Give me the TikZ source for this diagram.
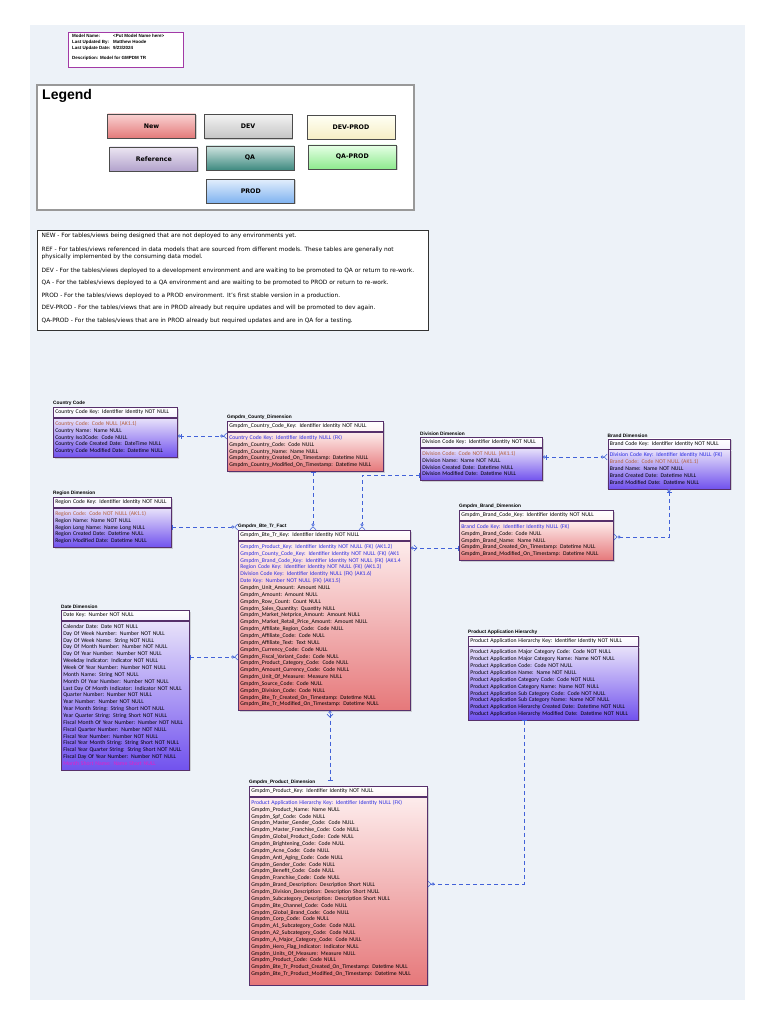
\documentclass[tikz,border=0pt]{standalone}
\usepackage{fontspec}
\setmainfont{DejaVu Sans}
\newfontfamily\erdfont{Carlito}
\newfontfamily\arialfont{Liberation Sans}
\usetikzlibrary{positioning,shadows,arrows.meta}

% colours
\definecolor{pagebg}{HTML}{EDF2F8}
\definecolor{tabline}{HTML}{57306B}
\definecolor{refTop}{HTML}{E8E2FA}
\definecolor{refBot}{HTML}{7152EE}
\definecolor{newTop}{HTML}{FDECEC}
\definecolor{newBot}{HTML}{E6787A}
\definecolor{fkblue}{HTML}{2A2CE2}
\definecolor{akbrown}{HTML}{B4603C}
\definecolor{hotpink}{HTML}{E41FC8}
\definecolor{relblue}{HTML}{4262D8}
\definecolor{hdrline}{HTML}{A23AA6}
\definecolor{newLegTop}{HTML}{FAD2D2}\definecolor{newLegBot}{HTML}{E37A7A}
\definecolor{devTop}{HTML}{F2F2F2}\definecolor{devBot}{HTML}{C4C4C4}
\definecolor{dpTop}{HTML}{FFFFF4}\definecolor{dpBot}{HTML}{F6EEC4}
\definecolor{refLegTop}{HTML}{ECE6F2}\definecolor{refLegBot}{HTML}{B2A2CC}
\definecolor{qaTop}{HTML}{CFE4E0}\definecolor{qaBot}{HTML}{3E8A80}
\definecolor{qpTop}{HTML}{E6FFE6}\definecolor{qpBot}{HTML}{8EEA8E}
\definecolor{prTop}{HTML}{E2EEFC}\definecolor{prBot}{HTML}{7EB2F0}

\newcommand{\erdrows}[1]{\begin{tabular}{@{}l@{}}#1\end{tabular}}
\newcommand{\fkrow}[1]{\textcolor{fkblue}{#1}}
\newcommand{\akrow}[1]{\textcolor{akbrown}{#1}}

\tikzset{
  ttl/.style={anchor=south west, inner sep=0pt, font=\arialfont\bfseries\fontsize{4.8}{5.5}\selectfont},
  tbox/.style={draw=tabline, line width=0.7pt, align=left, inner xsep=2pt,
    font=\erdfont\fontsize{5.7}{6.85}\selectfont,
    drop shadow={shadow xshift=1.2pt, shadow yshift=-1.2pt, opacity=0.3}},
  refkey/.style={tbox, anchor=north west, inner ysep=1.6pt, top color=white, bottom color=refTop!45},
  newkey/.style={tbox, anchor=north west, inner ysep=1.6pt, top color=white, bottom color=newTop!60},
  refattr/.style={tbox, inner ysep=2.5pt, top color=refTop, bottom color=refBot},
  newattr/.style={tbox, inner ysep=2.5pt, top color=newTop, bottom color=newBot},
  legbox/.style={draw=black!70, line width=0.7pt, minimum width=88pt, minimum height=24pt, inner sep=0pt,
    font=\bfseries\fontsize{6.3}{7}\selectfont,
    drop shadow={shadow xshift=1.2pt, shadow yshift=-1.2pt, opacity=0.35}},
  rel/.style={draw=relblue, line width=0.6pt, dash pattern=on 4pt off 3pt},
  onebar/.tip={Bar[width=5pt]},
  ringbar/.tip={Bar[width=5pt] Circle[open,fill=white,length=3pt]},
  ringcrow/.tip={Circle[open,fill=white,length=3pt] Straight Barb[reversed,length=3pt,width=6pt]},
  crowring/.tip={Straight Barb[reversed,length=3pt,width=6pt] Circle[open,fill=white,length=3pt]},
}

\begin{document}
\begin{tikzpicture}[x=1pt, y=-1pt]
  \useasboundingbox (0,0) rectangle (768,1024);
  \fill[pagebg] (30,25) rectangle (745,1000);

  % Model header
  \draw[hdrline, line width=1pt, fill=white] (68,33) rectangle (183,68);
  \node[anchor=north west, inner sep=0pt, align=left, font=\arialfont\bfseries\fontsize{4.5}{6}\selectfont] (hdr) at (72,34.5)
    {\makebox[41pt][l]{Model Name:}<Put Model Name here>\\
     \makebox[41pt][l]{Last Updated By:}Matthew Hoode\\
     \makebox[41pt][l]{Last Update Date:}9/23/2024\\[4pt]
     Description: Model for GMPDM TR};

  % Legend
  \draw[black!40, line width=1.5pt, fill=white] (37,85) rectangle (414,210);
  \node[anchor=west, inner sep=0pt, font=\arialfont\bfseries\fontsize{14}{16}\selectfont] (legt) at (42,96) {Legend};
  \node[legbox, top color=newLegTop, bottom color=newLegBot] (lnew) at (151.5,126) {New};
  \node[legbox, top color=devTop, bottom color=devBot] (ldev) at (248,126.7) {DEV};
  \node[legbox, top color=dpTop, bottom color=dpBot] (ldp) at (351,127.3) {DEV-PROD};
  \node[legbox, top color=refLegTop, bottom color=refLegBot] (lref) at (153.8,159) {Reference};
  \node[legbox, top color=qaTop, bottom color=qaBot] (lqa) at (250,158) {QA};
  \node[legbox, top color=qpTop, bottom color=qpBot] (lqp) at (352.3,157) {QA-PROD};
  \node[legbox, top color=prTop, bottom color=prBot] (lprod) at (250.8,191.3) {PROD};

  % Descriptions
  \draw[black!80, line width=0.6pt, fill=white] (37,230) rectangle (428,330);
  \node[anchor=north west, inner sep=0pt, align=left, font=\fontsize{5.85}{7.5}\selectfont] (desc) at (41.5,233)
    {NEW - For tables/views being designed that are not deployed to any environments yet.\\[6pt]
     REF - For tables/views referenced in data models that are sourced from different models.  These tables are generally not\\
     physically implemented by the consuming data model.\\[6pt]
     DEV - For the tables/views deployed to a development environment and are waiting to be promoted to QA or return to re-work.\\[5pt]
     QA - For the tables/views deployed to a QA environment and are waiting to be promoted to PROD or return to re-work.\\[5pt]
     PROD - For the tables/views deployed to a PROD environment. It's first stable version in a production.\\[5pt]
     DEV-PROD - For the tables/views that are in PROD already but require updates and will be promoted to dev again.\\[5pt]
     QA-PROD - For the tables/views that are in PROD already but required updates and are in QA for a testing.};

  % Country Code
  \node[ttl] (cct) at (53,406) {Country Code};
  \node[refkey, text width=120pt] (cck) at (53,407) {\erdrows{Country Code Key: Identifier Identity NOT NULL}};
  \node[refattr, text width=120pt, below=0pt of cck] (cca) {\erdrows{\akrow{Country Code: Code NULL (AK1.1)}\\
    Country Name: Name NULL\\
    Country Iso3Code: Code NULL\\
    Country Code Created Date: DateTime NULL\\
    Country Code Modified Date: Datetime NULL}};

  % Gmpdm_County_Dimension
  \node[ttl] (cdt) at (227,420) {Gmpdm\_County\_Dimension};
  \node[newkey, text width=152pt] (cdk) at (227,421) {\erdrows{Gmpdm\_Country\_Code\_Key: Identifier Identity NOT NULL}};
  \node[newattr, text width=152pt, below=0pt of cdk] (cda) {\erdrows{\fkrow{Country Code Key: Identifier Identity NULL (FK)}\\
    Gmpdm\_Country\_Code: Code NULL\\
    Gmpdm\_Country\_Name: Name NULL\\
    Gmpdm\_Country\_Created\_On\_Timestamp: Datetime NULL\\
    Gmpdm\_Country\_Modified\_On\_Timestamp: Datetime NULL}};

  % Division Dimension
  \node[ttl] (dvt) at (420,436) {Division Dimension};
  \node[refkey, text width=118pt] (dvk) at (420,437) {\erdrows{Division Code Key: Identifier Identity NOT NULL}};
  \node[refattr, text width=118pt, below=0pt of dvk] (dva) {\erdrows{\akrow{Division Code: Code NOT NULL (AK1.1)}\\
    Division Name: Name NOT NULL\\
    Division Created Date: Datetime NULL\\
    Division Modified Date: Datetime NULL}};

  % Brand Dimension
  \node[ttl] (bdt) at (607.5,437.5) {Brand Dimension};
  \node[refkey, text width=118.5pt] (bdk) at (607.5,438.5) {\erdrows{Brand Code Key: Identifier Identity NOT NULL}};
  \node[refattr, text width=118.5pt, below=0pt of bdk] (bda) {\erdrows{\fkrow{Division Code Key: Identifier Identity NULL (FK)}\\
    \akrow{Brand Code: Code NOT NULL (AK1.1)}\\
    Brand Name: Name NOT NULL\\
    Brand Created Date: Datetime NULL\\
    Brand Modified Date: Datetime NULL}};

  % Region Dimension
  \node[ttl] (rgt) at (53,496) {Region Dimension};
  \node[refkey, text width=114pt] (rgk) at (53,497) {\erdrows{Region Code Key: Identifier Identity NOT NULL}};
  \node[refattr, text width=114pt, below=0pt of rgk] (rga) {\erdrows{\akrow{Region Code: Code NOT NULL (AK1.1)}\\
    Region Name: Name NOT NULL\\
    Region Long Name: Name Long NULL\\
    Region Created Date: Datetime NULL\\
    Region Modified Date: Datetime NULL}};

  % Gmpdm_Brand_Dimension
  \node[ttl] (gbt) at (459,509) {Gmpdm\_Brand\_Dimension};
  \node[newkey, text width=150pt] (gbk) at (459,510) {\erdrows{Gmpdm\_Brand\_Code\_Key: Identifier Identity NOT NULL}};
  \node[newattr, text width=150pt, below=0pt of gbk] (gba) {\erdrows{\fkrow{Brand Code Key: Identifier Identity NULL (FK)}\\
    Gmpdm\_Brand\_Code: Code NULL\\
    Gmpdm\_Brand\_Name: Name NULL\\
    Gmpdm\_Brand\_Created\_On\_Timestamp: Datetime NULL\\
    Gmpdm\_Brand\_Modified\_On\_Timestamp: Datetime NULL}};

  % Gmpdm_Bte_Tr_Fact
  \node[ttl] (fct) at (238,529) {Gmpdm\_Bte\_Tr\_Fact};
  \node[newkey, text width=168pt] (fck) at (238,530) {\erdrows{Gmpdm\_Bte\_Tr\_Key: Identifier Identity NOT NULL}};
  \node[newattr, text width=168pt, below=0pt of fck] (fca) {\erdrows{\fkrow{Gmpdm\_Product\_Key: Identifier Identity NOT NULL (FK) (AK1.2)}\\
    \fkrow{Gmpdm\_County\_Code\_Key: Identifier Identity NOT NULL (FK) (AK1}\\
    \fkrow{Gmpdm\_Brand\_Code\_Key: Identifier Identity NOT NULL (FK) (AK1.4}\\
    \fkrow{Region Code Key: Identifier Identity NOT NULL (FK) (AK1.3)}\\
    \fkrow{Division Code Key: Identifier Identity NULL (FK) (AK1.6)}\\
    \fkrow{Date Key: Number NOT NULL (FK) (AK1.5)}\\
    Gmpdm\_Unit\_Amount: Amount NULL\\
    Gmpdm\_Amount: Amount NULL\\
    Gmpdm\_Row\_Count: Count NULL\\
    Gmpdm\_Sales\_Quantity: Quantity NULL\\
    Gmpdm\_Market\_Netprice\_Amount: Amount NULL\\
    Gmpdm\_Market\_Retail\_Price\_Amount: Amount NULL\\
    Gmpdm\_Affiliate\_Region\_Code: Code NULL\\
    Gmpdm\_Affiliate\_Code: Code NULL\\
    Gmpdm\_Affiliate\_Text: Text NULL\\
    Gmpdm\_Currency\_Code: Code NULL\\
    Gmpdm\_Fiscal\_Variant\_Code: Code NULL\\
    Gmpdm\_Product\_Category\_Code: Code NULL\\
    Gmpdm\_Amount\_Currency\_Code: Code NULL\\
    Gmpdm\_Unit\_Of\_Measure: Measure NULL\\
    Gmpdm\_Source\_Code: Code NULL\\
    Gmpdm\_Division\_Code: Code NULL\\
    Gmpdm\_Bte\_Tr\_Created\_On\_Timestamp: Datetime NULL\\
    Gmpdm\_Bte\_Tr\_Modified\_On\_Timestamp: Datetime NULL}};

  % Date Dimension
  \node[ttl] (dtt) at (61,609) {Date Dimension};
  \node[refkey, text width=124pt] (dtk) at (61,610) {\erdrows{Date Key: Number NOT NULL}};
  \node[refattr, text width=124pt, below=0pt of dtk] (dta) {\erdrows{Calendar Date: Date NOT NULL\\
    Day Of Week Number: Number NOT NULL\\
    Day Of Week Name: String NOT NULL\\
    Day Of Month Number: Number NOT NULL\\
    Day Of Year Number: Number NOT NULL\\
    Weekday Indicator: Indicator NOT NULL\\
    Week Of Year Number: Number NOT NULL\\
    Month Name: String NOT NULL\\
    Month Of Year Number: Number NOT NULL\\
    Last Day Of Month Indicator: Indicator NOT NULL\\
    Quarter Number: Number NOT NULL\\
    Year Number: Number NOT NULL\\
    Year Month String: String Short NOT NULL\\
    Year Quarter String: String Short NOT NULL\\
    Fiscal Month Of Year Number: Number NOT NULL\\
    Fiscal Quarter Number: Number NOT NULL\\
    Fiscal Year Number: Number NOT NULL\\
    Fiscal Year Month String: String Short NOT NULL\\
    Fiscal Year Quarter String: String Short NOT NULL\\
    Fiscal Day Of Year Number: Number NOT NULL\\
    \textcolor{hotpink}{Month Short Name: Name Short NULL}}};

  % Product Application Hierarchy
  \node[ttl] (pat) at (468,634.5) {Product Application Hierarchy};
  \node[refkey, text width=166pt] (pak) at (468,635.5) {\erdrows{Product Application Hierarchy Key: Identifier Identity NOT NULL}};
  \node[refattr, text width=166pt, below=0pt of pak] (paa) {\erdrows{Product Application Major Category Code: Code NOT NULL\\
    Product Application Major Category Name: Name NOT NULL\\
    Product Application Code: Code NOT NULL\\
    Product Application Name: Name NOT NULL\\
    Product Application Category Code: Code NOT NULL\\
    Product Application Category Name: Name NOT NULL\\
    Product Application Sub Category Code: Code NOT NULL\\
    Product Application Sub Category Name: Name NOT NULL\\
    Product Application Hierarchy Created Date: Datetime NOT NULL\\
    Product Application Hierarchy Modified Date: Datetime NOT NULL}};

  % Gmpdm_Product_Dimension
  \node[ttl] (pdt) at (249,785) {Gmpdm\_Product\_Dimension};
  \node[newkey, text width=174pt] (pdk) at (249,786) {\erdrows{Gmpdm\_Product\_Key: Identifier Identity NOT NULL}};
  \node[newattr, text width=174pt, below=0pt of pdk] (pda) {\erdrows{\fkrow{Product Application Hierarchy Key: Identifier Identity NULL (FK)}\\
    Gmpdm\_Product\_Name: Name NULL\\
    Gmpdm\_Spf\_Code: Code NULL\\
    Gmpdm\_Master\_Gender\_Code: Code NULL\\
    Gmpdm\_Master\_Franchise\_Code: Code NULL\\
    Gmpdm\_Global\_Product\_Code: Code NULL\\
    Gmpdm\_Brightening\_Code: Code NULL\\
    Gmpdm\_Acne\_Code: Code NULL\\
    Gmpdm\_Anti\_Aging\_Code: Code NULL\\
    Gmpdm\_Gender\_Code: Code NULL\\
    Gmpdm\_Benefit\_Code: Code NULL\\
    Gmpdm\_Franchise\_Code: Code NULL\\
    Gmpdm\_Brand\_Description: Description Short NULL\\
    Gmpdm\_Division\_Description: Description Short NULL\\
    Gmpdm\_Subcategory\_Description: Description Short NULL\\
    Gmpdm\_Bte\_Channel\_Code: Code NULL\\
    Gmpdm\_Global\_Brand\_Code: Code NULL\\
    Gmpdm\_Corp\_Code: Code NULL\\
    Gmpdm\_A1\_Subcategory\_Code: Code NULL\\
    Gmpdm\_A2\_Subcategory\_Code: Code NULL\\
    Gmpdm\_A\_Major\_Category\_Code: Code NULL\\
    Gmpdm\_Hero\_Flag\_Indicator: Indicator NULL\\
    Gmpdm\_Units\_Of\_Measure: Measure NULL\\
    Gmpdm\_Product\_Code: Code NULL\\
    Gmpdm\_Bte\_Tr\_Product\_Created\_On\_Timestamp: Datetime NULL\\
    Gmpdm\_Bte\_Tr\_Product\_Modified\_On\_Timestamp: Datetime NULL\\[5pt]}};

  % Relationships
  \draw[rel, ringbar-ringcrow] (cca.east |- 0,436) -- (cda.west |- 0,436);
  \draw[rel, ringbar-ringcrow] (dva.east |- 0,457) -- (bda.west |- 0,457);
  \draw[rel, onebar-ringcrow] (313,0 |- cda.south) -- (313,0 |- fck.north);
  \draw[rel, onebar-ringcrow] (dva.west |- 0,475) -| (362,0 |- fck.north);
  \draw[rel, onebar-ringcrow] (rga.east |- 0,527) -- (fct.west |- 0,527);
  \draw[rel, crowring-onebar] (fca.east |- 0,548) -- (gba.west |- 0,548);
  \draw[rel, ringbar-ringcrow] (669,0 |- bda.south) |- (gba.east |- 0,537);
  \draw[rel, onebar-ringcrow] (dta.east |- 0,657) -- (fca.west |- 0,657);
  \draw[rel, crowring-onebar] (330,0 |- fca.south) -- (330,0 |- pdt.north);
  \draw[rel, onebar-ringcrow] (524,0 |- paa.south) |- (pda.east |- 0,884);
\end{tikzpicture}
\end{document}
